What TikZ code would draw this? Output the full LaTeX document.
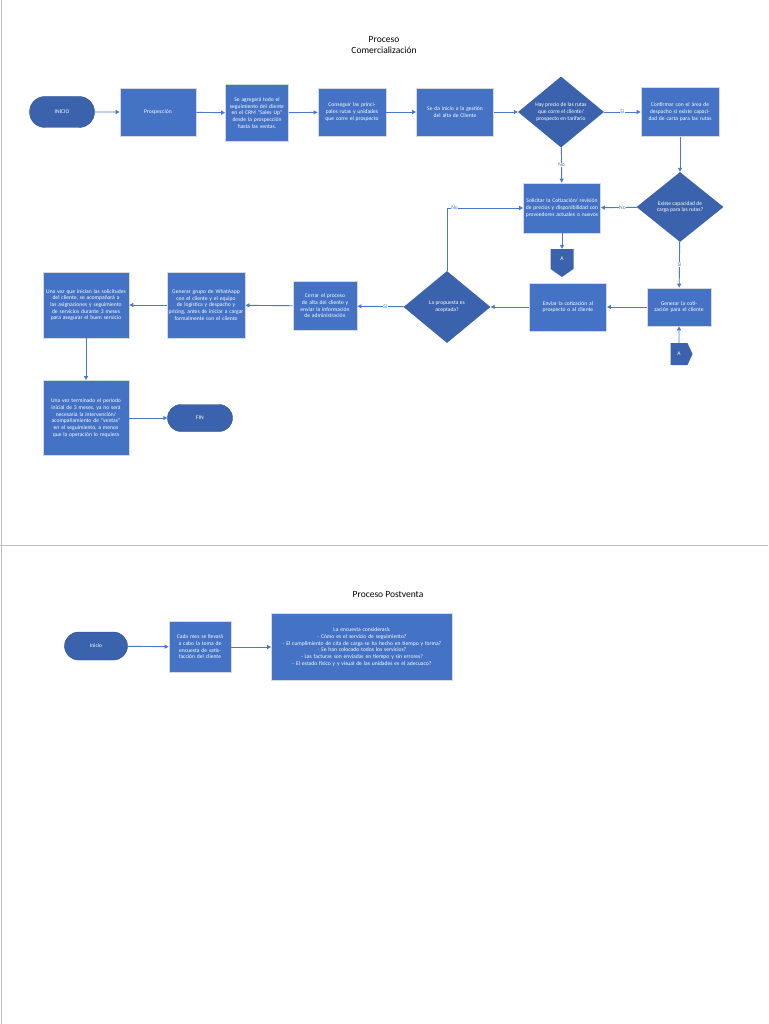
\documentclass[tikz,border=0pt]{standalone}
\usepackage{fontspec}
\setmainfont{Carlito}
\usetikzlibrary{shapes.geometric,shapes.symbols,shapes.misc,arrows.meta}
\definecolor{bx}{HTML}{4472C4}
\definecolor{dk}{HTML}{3B62AD}
\definecolor{ln}{HTML}{4A78CC}
\begin{document}
\begin{tikzpicture}[x=1pt,y=-1pt,
 font=\fontsize{5.6}{6.7}\selectfont,
 box/.style={draw=black!15,line width=0.8pt,fill=bx,text=white,align=center,inner sep=1pt},
 dia/.style={diamond,fill=dk,text=white,align=center,inner sep=0pt,aspect=1.2},
 term/.style={rounded rectangle,fill=dk,draw=bx!70!black,text=white,inner sep=0pt},
 arr/.style={draw=ln,line width=0.9pt,-{Triangle[length=4pt,width=4pt]}},
 lab/.style={fill=white,text=ln,inner sep=0.5pt,font=\fontsize{5.6}{6.7}\selectfont}]
\useasboundingbox (0,0) rectangle (768,1024);
\fill[white] (0,0) rectangle (768,1024);
\draw[black!25,line width=1pt] (1,0) -- (1,1024);
\draw[black!25,line width=1pt] (0,545) -- (768,545);
\node[font=\fontsize{9.5}{11.5}\selectfont,align=center] (t1) at (384,45) {Proceso\\Comercialización};
\node[font=\fontsize{9.5}{11.5}\selectfont] (t2) at (388,594) {Proceso Postventa};
% row 1
\node[term,minimum width=65pt,minimum height=31pt] (ini) at (62,112) {INICIO};
\node[box,minimum width=76pt,minimum height=48pt] (pro) at (158,112) {Prospección};
\node[box,minimum width=63pt,minimum height=57pt,text width=61pt] (crm) at (257,113) {Se agregará todo el seguimiento del cliente en el CRM “Sales Up” desde la prospección hasta las ventas.};
\node[box,minimum width=66pt,minimum height=48pt,text width=66pt] (con) at (352,112) {Conseguir las principales rutas y unidades que corre el prospecto};
\node[box,minimum width=77pt,minimum height=48pt,text width=72pt] (alt) at (455,112) {Se da inicio a la gestión del alta de Cliente};
\node[dia,minimum width=86pt,minimum height=71pt] (d1) at (561,112) {Hay precio de las rutas\\que corre el cliente/\\prospecto en tarifario};
\node[box,minimum width=78pt,minimum height=49pt,text width=76pt] (cnf) at (680,112) {Confirmar con el área de despacho si existe capacidad de carta para las rutas};
\node[dia,minimum width=87pt,minimum height=70pt] (d2) at (680,207) {Existe capacidad de\\carga para las rutas?};
\node[box,minimum width=77pt,minimum height=50pt,text width=75pt] (sol) at (562,208) {Solicitar la Cotización/ revisión de precios y disponibilidad con proveedores actuales o nuevos};
\node[signal,signal to=south,signal pointer angle=110,fill=dk,text=white,minimum width=23pt,minimum height=21pt,inner sep=0pt] (a1) at (562,259) {A};
\node[box,minimum width=64pt,minimum height=38pt,text width=62pt] (gen) at (679,307) {Generar la cotización para el cliente};
\node[signal,signal from=south,signal pointer angle=130,fill=dk,text=white,minimum width=22pt,minimum height=22pt,inner sep=0pt] (a2) at (679,354) {A};
\node[box,minimum width=77pt,minimum height=48pt,text width=75pt] (env) at (568,307) {Enviar la cotización al prospecto o al cliente};
\node[dia,minimum width=87pt,minimum height=72pt] (d3) at (447,307) {La propuesta es\\aceptada?};
\node[box,minimum width=64pt,minimum height=49pt,text width=62pt] (cer) at (325,306) {Cerrar el proceso de alta del cliente y enviar la información de administración};
\node[box,minimum width=77pt,minimum height=66pt,text width=76pt] (wha) at (206,305) {Generar grupo de WhatAapp con el cliente y el equipo de logística y despacho y pricing, antes de iniciar a cargar formalmente con el cliente};
\node[box,minimum width=86pt,minimum height=66pt,text width=84pt] (una) at (86,305) {Una vez que inician las solicitudes del cliente, se acompañará a las asignaciones y seguimiento de servicios durante 3 meses para asegurar el buen servicio};
\node[box,minimum width=86pt,minimum height=75pt,text width=82pt] (ter) at (86,418) {Una vez terminado el periodo inicial de 3 meses, ya no será necesaria la intervención/ acompañamiento de “ventas” en el seguimiento, a menos que la operación lo requiera};
\node[term,minimum width=65pt,minimum height=27pt] (fin) at (200,418) {FIN};
% post
\node[term,minimum width=63pt,minimum height=28pt] (ini2) at (96,646) {Inicio};
\node[box,minimum width=62pt,minimum height=51pt,text width=60pt] (cada) at (200,647) {Cada mes se llevará a cabo la toma de encuesta de satisfacción del cliente};
\node[box,minimum width=181pt,minimum height=67pt,text width=179pt] (enc) at (362,647) {La encuesta considerará:\\- Cómo es el servicio de seguimiento?\\- El cumplimiento de cita de carga se ha hecho en tiempo y forma?\\- Se han colocado todos los servicios?\\- Las facturas son enviadas en tiempo y sin errores?\\- El estado físico y y visual de las unidades es el adecuaco?};
% arrows
\draw[arr] (ini) -- (pro);
\draw[arr] (pro) -- (crm);
\draw[arr] (crm) -- (con);
\draw[arr] (con) -- (alt);
\draw[arr] (alt) -- (d1);
\draw[arr] (d1) -- node[lab]{Si} (cnf);
\draw[arr] (d1) -- node[lab]{No} (sol);
\draw[arr] (cnf) -- (d2);
\draw[arr] (d2) -- node[lab,pos=0.4]{No} (sol);
\draw[arr] (d2) -- node[lab]{Si} (gen);
\draw[arr] (sol) -- (a1);
\draw[arr] (a2) -- (gen);
\draw[arr] (gen) -- (env);
\draw[arr] (env) -- (d3);
\draw[arr] (d3) -- node[lab,pos=0.4]{Si} (cer);
\draw[arr] (d3.north) |- node[lab,pos=0.55]{No} (sol.west);
\draw[arr] (cer) -- (wha);
\draw[arr] (wha) -- (una);
\draw[arr] (una) -- (ter);
\draw[arr] (ter) -- (fin);
\draw[arr] (ini2) -- (cada);
\draw[arr] (cada) -- (enc);
\end{tikzpicture}
\end{document}
